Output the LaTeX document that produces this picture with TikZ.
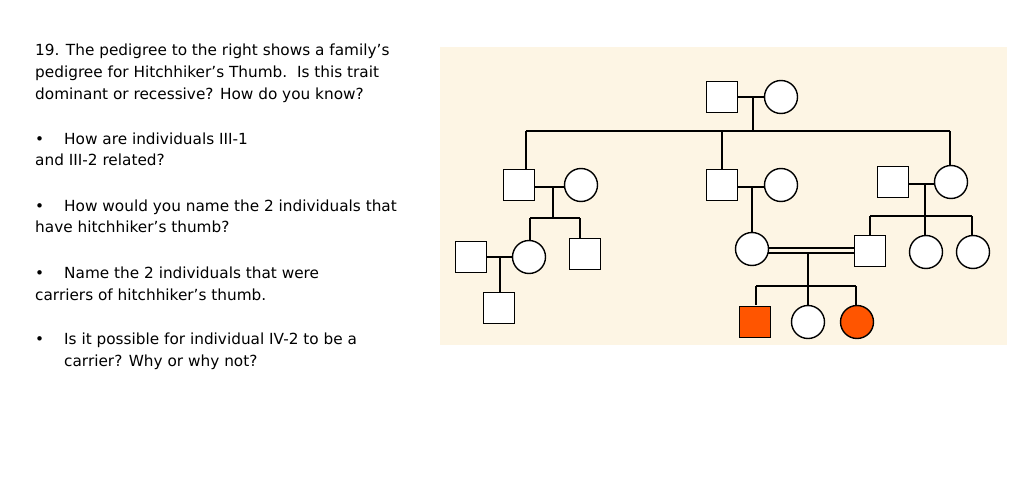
\documentclass[tikz,border=0pt]{standalone}
\usepackage{fontspec}
\setmainfont{DejaVu Sans}
\definecolor{bg}{HTML}{FDF5E4}
\definecolor{aff}{HTML}{FF5500}
\begin{document}
\begin{tikzpicture}[x=1pt,y=-1pt,
  m/.style={draw,line width=1.4pt,minimum size=31pt,inner sep=0pt,fill=white},
  f/.style={draw,circle,line width=1.4pt,minimum size=33pt,inner sep=0pt,fill=white},
  ln/.style={line width=1.4pt},
  tx/.style={anchor=base west,inner sep=0pt,font=\fontsize{15.3}{17}\selectfont}]
\useasboundingbox (0,0) rectangle (1024,489);
\fill[bg] (440,47) rectangle (1007,345);
% text
\node[tx] (t1) at (35,56) {19. The pedigree to the right shows a family’s};
\node[tx] (t2) at (35,78) {pedigree for Hitchhiker’s Thumb.\ \ Is this trait};
\node[tx] (t3) at (35,100) {dominant or recessive? How do you know?};
\node[tx] (b1) at (35,145) {•};
\node[tx] (t4) at (64,145) {How are individuals III-1};
\node[tx] (t5) at (35,166) {and III-2 related?};
\node[tx] (b2) at (35,211) {•};
\node[tx] (t6) at (64,211) {How would you name the 2 individuals that};
\node[tx] (t7) at (35,232) {have hitchhiker’s thumb?};
\node[tx] (b3) at (35,278) {•};
\node[tx] (t8) at (64,278) {Name the 2 individuals that were};
\node[tx] (t9) at (35,300) {carriers of hitchhiker’s thumb.};
\node[tx] (b4) at (35,344) {•};
\node[tx] (t10) at (64,344) {Is it possible for individual IV-2 to be a};
\node[tx] (t11) at (64,366) {carrier? Why or why not?};
% coordinates
\coordinate (c1) at (753,97);
\coordinate (c1b) at (753,131);
\coordinate (s1a) at (526,131);
\coordinate (s1b) at (722,131);
\coordinate (s1c) at (950,131);
\coordinate (c2) at (553,187);
\coordinate (c2b) at (553,218);
\coordinate (s2a) at (530,218);
\coordinate (s2b) at (580,218);
\coordinate (c3) at (752,187);
\coordinate (c4) at (925,184);
\coordinate (c4b) at (925,216);
\coordinate (s4a) at (870,216);
\coordinate (s4b) at (972,216);
\coordinate (c5) at (500,257);
\coordinate (c6) at (808,257);
\coordinate (c6b) at (808,286);
\coordinate (s6a) at (756,286);
\coordinate (s6b) at (856,286);
% lines
\draw[ln] (722,97) -- (781,97);
\draw[ln] (c1) -- (c1b);
\draw[ln] (s1a) -- (s1c);
\draw[ln] (s1a) -- (526,170);
\draw[ln] (s1b) -- (722,170);
\draw[ln] (s1c) -- (950,166);
\draw[ln] (519,187) -- (581,187);
\draw[ln] (c2) -- (c2b);
\draw[ln] (s2a) -- (s2b);
\draw[ln] (s2a) -- (530,240);
\draw[ln] (s2b) -- (580,240);
\draw[ln] (722,187) -- (781,187);
\draw[ln] (c3) -- (752,240);
\draw[ln] (893,184) -- (951,184);
\draw[ln] (c4) -- (c4b);
\draw[ln] (s4a) -- (s4b);
\draw[ln] (s4a) -- (870,240);
\draw[ln] (c4b) -- (925,240);
\draw[ln] (s4b) -- (972,240);
\draw[ln] (470,257) -- (528,257);
\draw[ln] (c5) -- (500,300);
\draw[ln] (752,248) -- (869,248);
\draw[ln] (752,253) -- (869,253);
\draw[ln] (c6) -- (808,252);
\draw[ln] (c6) -- (c6b);
\draw[ln] (s6a) -- (s6b);
\draw[ln] (s6a) -- (756,305);
\draw[ln] (c6b) -- (808,305);
\draw[ln] (s6b) -- (856,305);
% individuals
\node[m] (I1) at (722,97) {};
\node[f] (I2) at (781,97) {};
\node[m] (II1) at (519,185) {};
\node[f] (II2) at (581,185) {};
\node[m] (II3) at (722,185) {};
\node[f] (II4) at (781,185) {};
\node[m] (II5) at (893,182) {};
\node[f] (II6) at (951,182) {};
\node[m] (III0) at (471,257) {};
\node[f] (III1a) at (529,257) {};
\node[m] (III2a) at (585,254) {};
\node[f] (III1) at (752,249) {};
\node[m] (III2) at (870,251) {};
\node[f] (III3) at (926,252) {};
\node[f] (III4) at (973,252) {};
\node[m] (IVa) at (499,308) {};
\node[m,fill=aff] (IV1) at (755,322) {};
\node[f] (IV2) at (808,322) {};
\node[f,fill=aff] (IV3) at (857,322) {};
\end{tikzpicture}
\end{document}
